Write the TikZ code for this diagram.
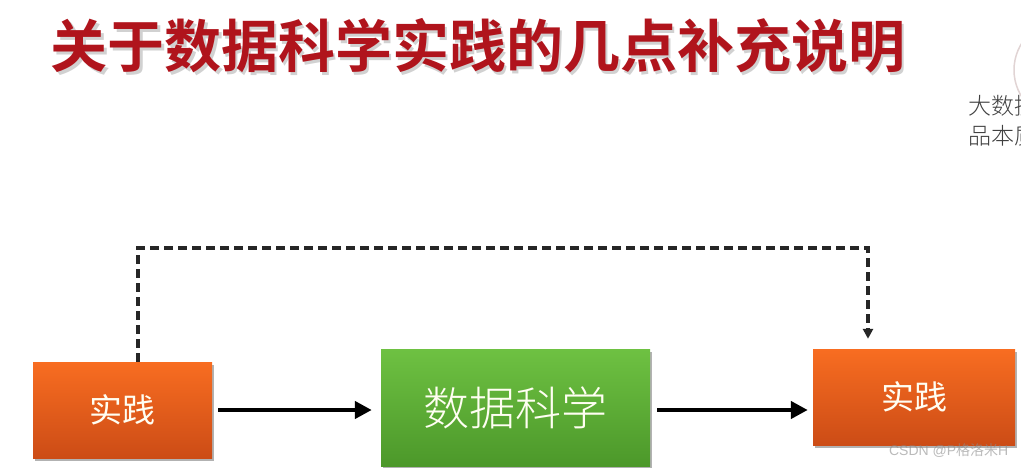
\documentclass[tikz,border=0pt]{standalone}
\usepackage{fontspec}
\newfontfamily\cjk{Noto Sans CJK SC}
\newfontfamily\cjkb{Noto Sans CJK SC Bold}
\newfontfamily\cjkl{Noto Sans CJK SC Light}
\usetikzlibrary{arrows.meta,shadows,calc}
\definecolor{titlered}{HTML}{B0141C}
\definecolor{orangetop}{HTML}{F86D21}
\definecolor{orangebot}{HTML}{CC4C16}
\definecolor{greentop}{HTML}{6EC142}
\definecolor{greenbot}{HTML}{4C982A}
\tikzset{
  box/.style={rectangle, inner sep=0pt, text=white!95!yellow,
    drop shadow={shadow xshift=2pt, shadow yshift=-3pt, fill=black, opacity=0.3}},
  orangebox/.style={box, top color=orangetop, bottom color=orangebot},
  greenbox/.style={box, top color=greentop, bottom color=greenbot},
  arr/.style={line width=4.6pt, -{Triangle[length=17pt,width=17pt]}},
  dasharr/.style={line width=3.2pt, dash pattern=on 9pt off 5pt, black!85,
    -{Triangle[length=10pt,width=10pt]}},
  sidetext/.style={anchor=north west, inner sep=0pt, text=black!75, font=\cjkl\fontsize{23}{28}\selectfont},
}
\begin{document}
\begin{tikzpicture}[x=1pt,y=-1pt]
\useasboundingbox (0,0) rectangle (1021,468);
\fill[white] (0,0) rectangle (1021,468);
\clip (0,0) rectangle (1021,468);
% title
\node[text=black!40, opacity=0.45] (titleshadow) at (480.5,48.5) {\cjkb\fontsize{57}{60}\selectfont 关于数据科学实践的几点补充说明};
\node[text=titlered] (title) at (478,46) {\cjkb\fontsize{57}{60}\selectfont 关于数据科学实践的几点补充说明};
% partial circle at top right
\draw[line width=1.5pt, draw=black!15!pink!60!gray!40, fill=white] (1064,70) coordinate (cc) circle (50);
\node[sidetext] (side1) at (968,95) {大数据};
\node[sidetext] (side2) at (968,125) {品本质};
% boxes
\node[orangebox, minimum width=179pt, minimum height=96pt] (lp) at (122.5,410) {\cjk\fontsize{33}{36}\selectfont 实践};
\node[greenbox, minimum width=269pt, minimum height=117pt] (ds) at (515.5,407.5) {\cjkl\fontsize{46}{50}\selectfont 数据科学};
\node[orangebox, minimum width=202pt, minimum height=96pt] (rp) at (914,397) {\cjk\fontsize{33}{36}\selectfont 实践};
% arrows
\draw[arr, shorten <=6pt, shorten >=9pt] (lp.east) -- (ds.west |- lp.east);
\draw[arr, shorten <=7pt, shorten >=5pt] (ds.east |- lp.east) -- (rp.west |- lp.east);
\coordinate (dstart) at ([xshift=15.5pt]lp.north);
\coordinate (dend) at ([xshift=-46pt]rp.north);
\draw[dasharr, shorten >=10pt] (dstart) -- (dstart |- 0,248) -| (dend);
% watermark
\node[anchor=east, text=black!45, opacity=0.6, inner sep=0pt] (wm) at (1008.5,450.5) {\fontspec{Liberation Sans}\fontsize{14}{16}\selectfont CSDN @P\cjk 格洛米\fontspec{Liberation Sans}H};
\end{tikzpicture}
\end{document}
